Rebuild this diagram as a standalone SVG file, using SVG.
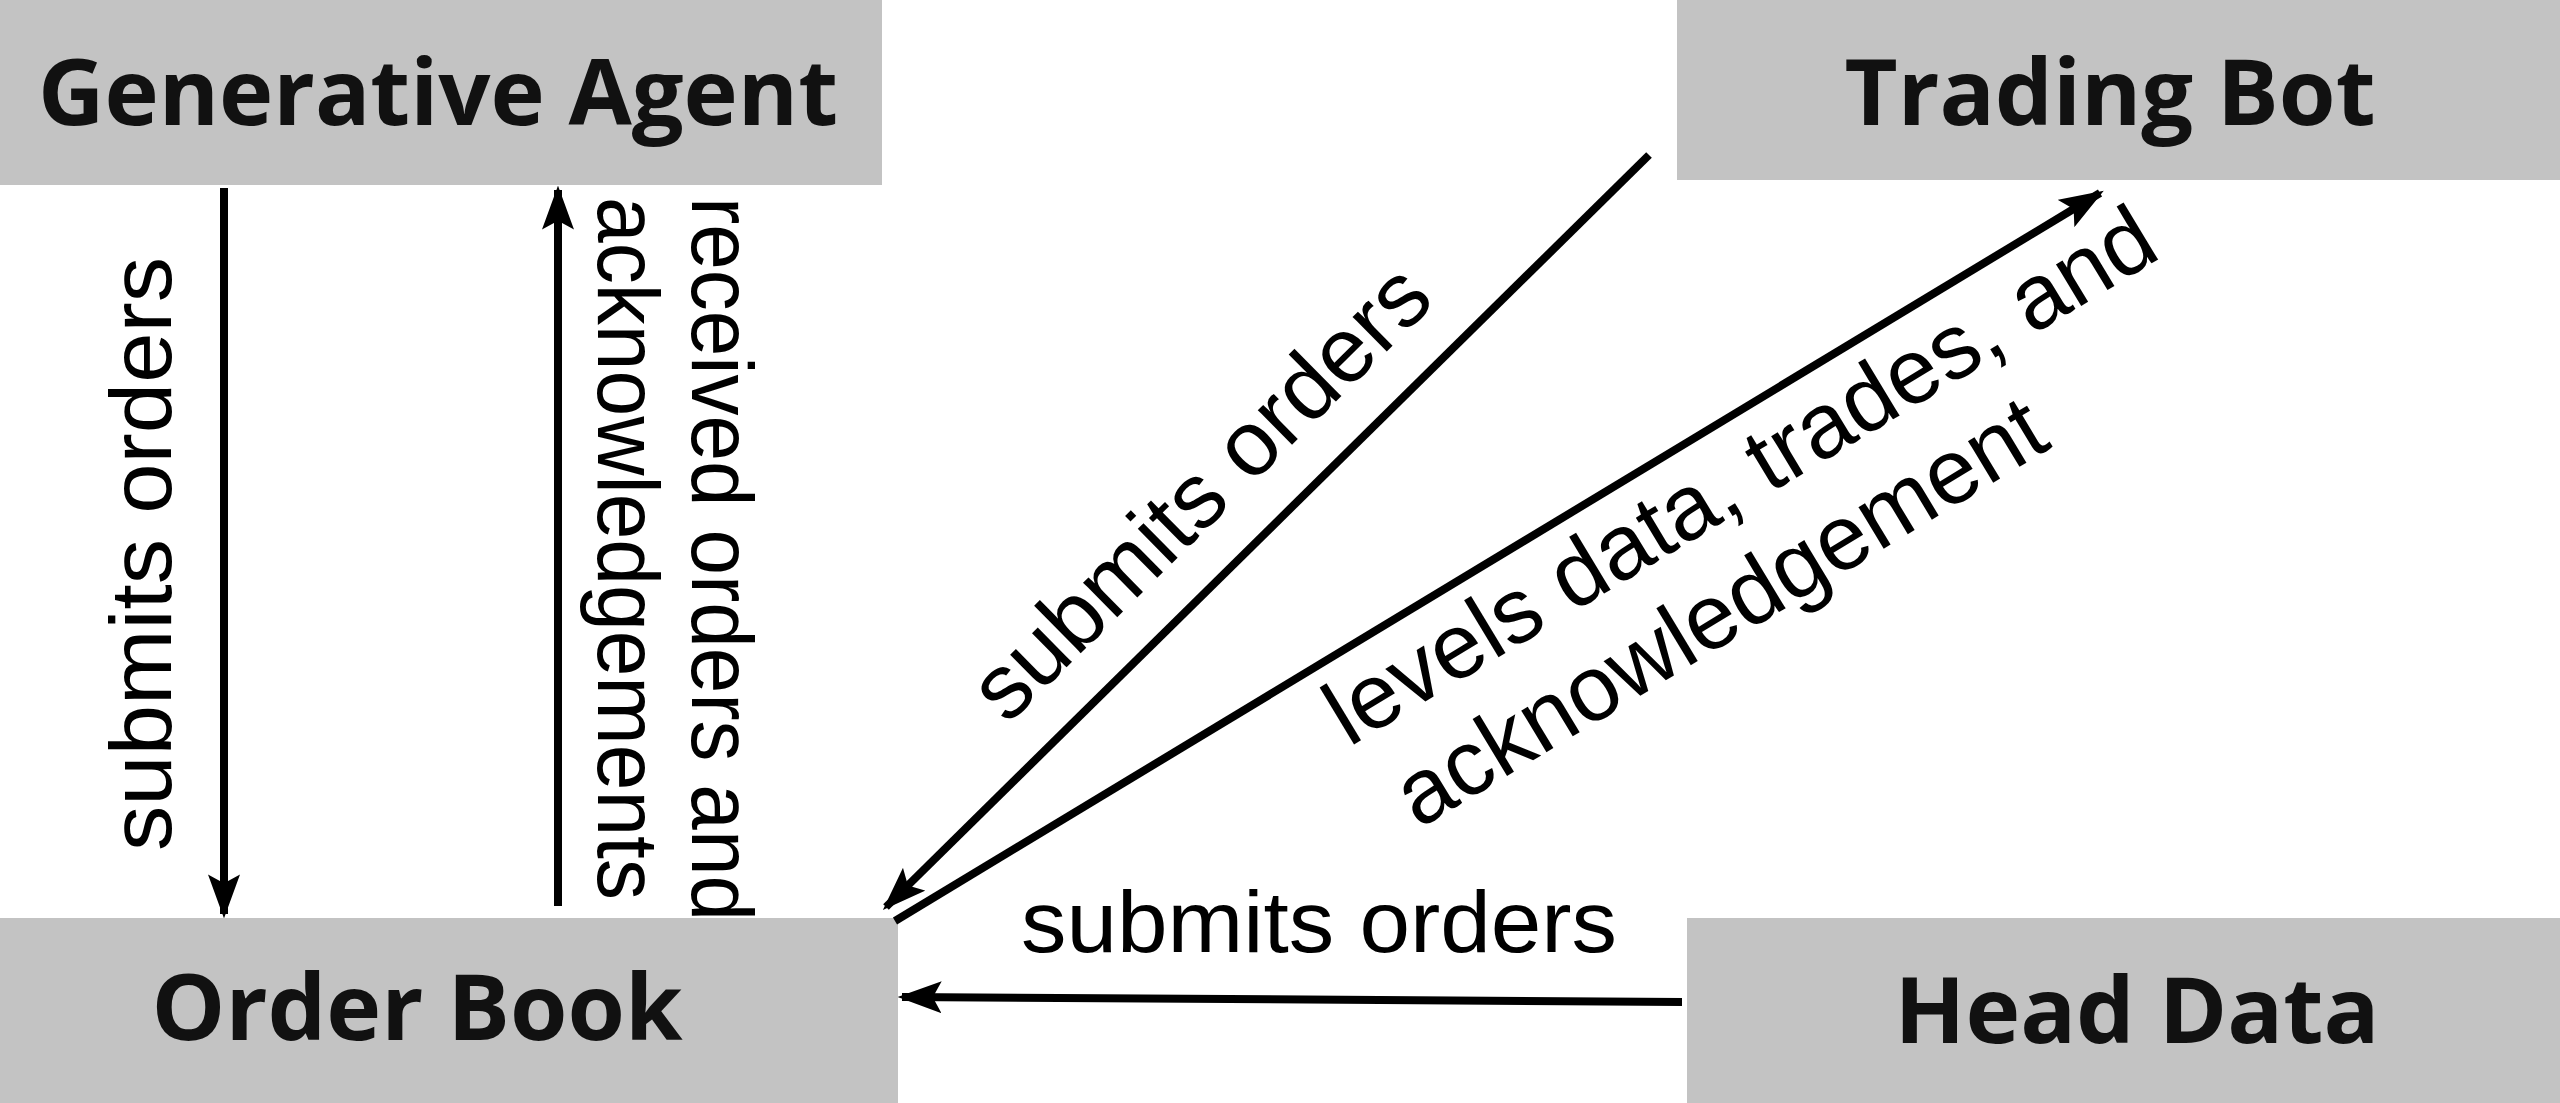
<svg xmlns="http://www.w3.org/2000/svg" width="2560" height="1103" viewBox="0 0 2560 1103">
<style>
.box{fill:#c3c3c3}
.nt{font-family:"Open Sans","DejaVu Sans",sans-serif;font-weight:bold;font-size:92px;fill:#111;text-anchor:middle}
.lb{font-family:"Liberation Sans",Arial,sans-serif;font-size:88px;fill:#000}
.dg{font-size:92px}
.ln{stroke:#000;stroke-width:8;fill:none;marker-end:url(#ah)}
</style>
<defs>
<marker id="ah" viewBox="0 0 10 10" refX="9" refY="5" markerWidth="5.5" markerHeight="4" orient="auto" markerUnits="strokeWidth" preserveAspectRatio="none">
<path d="M0,0 L10,5 L0,10 L2,5 z" fill="#000"/>
</marker>
</defs>
<rect width="2560" height="1103" fill="#fff"/>
<g id="generative-agent"><rect class="box" x="0" y="0" width="882" height="185"/><text class="nt" x="438" y="125" textLength="800" lengthAdjust="spacingAndGlyphs">Generative Agent</text></g>
<g id="trading-bot"><rect class="box" x="1677" y="0" width="883" height="180"/><text class="nt" x="2110" y="125" textLength="531" lengthAdjust="spacingAndGlyphs">Trading Bot</text></g>
<g id="order-book"><rect class="box" x="0" y="918" width="898" height="185"/><text class="nt" x="417" y="1040" textLength="531" lengthAdjust="spacingAndGlyphs">Order Book</text></g>
<g id="head-data"><rect class="box" x="1687" y="918" width="873" height="185"/><text class="nt" x="2137" y="1043" textLength="485" lengthAdjust="spacingAndGlyphs">Head Data</text></g>
<g id="connectors">
<line class="ln" x1="224" y1="188" x2="224" y2="914"/>
<line class="ln" x1="558" y1="906" x2="558" y2="190"/>
<line class="ln" x1="1649" y1="155" x2="886" y2="907"/>
<line class="ln" x1="895" y1="921" x2="2100" y2="193"/>
<line class="ln" x1="1682" y1="1002" x2="902" y2="997"/>
<text class="lb" transform="translate(171,554) rotate(-90)" text-anchor="middle" textLength="594" lengthAdjust="spacingAndGlyphs">submits orders</text>
<text class="lb" transform="translate(692,197) rotate(90)" textLength="724" lengthAdjust="spacingAndGlyphs">received orders and</text>
<text class="lb" transform="translate(598,197) rotate(90)" textLength="703" lengthAdjust="spacingAndGlyphs">acknowledgements</text>
<text class="lb dg" transform="translate(1222,514) rotate(-44.6)" text-anchor="middle">submits orders</text>
<text class="lb dg" transform="translate(1756,502) rotate(-31.1)" text-anchor="middle">levels data, trades, and</text>
<text class="lb dg" transform="translate(1736,638) rotate(-31.1)" text-anchor="middle">acknowledgement</text>
<text class="lb" x="1319" y="952" text-anchor="middle" textLength="596" lengthAdjust="spacingAndGlyphs">submits orders</text>
</g>
</svg>
